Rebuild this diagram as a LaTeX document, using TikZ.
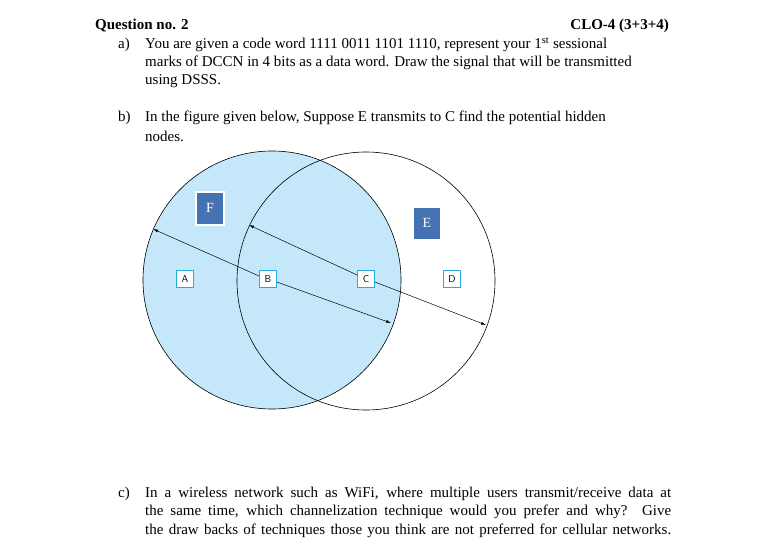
\documentclass[tikz,border=0pt]{standalone}
\usepackage{fontspec}
\setmainfont{Liberation Serif}
\usetikzlibrary{arrows.meta}
\definecolor{lblue}{RGB}{196,232,250}
\definecolor{dblue}{RGB}{68,114,179}
\definecolor{sedge}{RGB}{40,170,220}
\begin{document}
\begin{tikzpicture}[x=1pt,y=-1pt,
 txt/.style={anchor=west,inner sep=0pt,font=\fontsize{15}{18}\selectfont},
 sbox/.style={draw=sedge,fill=white,line width=0.8pt,minimum width=17pt,minimum height=17pt,inner sep=0pt,font=\sffamily},
 bbox/.style={draw=white,line width=2pt,fill=dblue,text=white,minimum width=28pt,minimum height=33pt,inner sep=0pt,font=\fontsize{14}{14}\selectfont},
 arr/.style={-{Latex[length=5pt,width=3pt]},line width=0.5pt}]
\useasboundingbox (0,0) rectangle (774,549);
\node[txt,font=\bfseries\fontsize{15}{18}\selectfont] (q) at (95,26) {Question no. 2};
\node[anchor=east,inner sep=0pt,font=\bfseries\fontsize{15}{18}\selectfont] (clo) at (669,26) {CLO-4 (3+3+4)};
\node[txt] (la) at (118,45) {a)};
\node[txt] (a1) at (145,45) {You are given a code word 1111 0011 1101 1110, represent your 1\textsuperscript{st} sessional};
\node[txt] (a2) at (145,63) {marks of DCCN in 4 bits as a data word. Draw the signal that will be transmitted};
\node[txt] (a3) at (145,81) {using DSSS.};
\node[txt] (lb) at (118,118) {b)};
\node[txt] (b1t) at (145,118) {In the figure given below, Suppose E transmits to C find the potential hidden};
\node[txt] (b2t) at (145,136) {nodes.};
\node[txt] (lc) at (118,494) {c)};
\node[txt] (c1t) at (145,494) {\makebox[526pt][s]{In a wireless network such as WiFi, where multiple users transmit/receive data at}};
\node[txt] (c2t) at (145,512) {\makebox[526pt][s]{the same time, which channelization technique would you prefer and why? Give}};
\node[txt] (c3t) at (145,531) {\makebox[526pt][s]{the draw backs of techniques those you think are not preferred for cellular networks.}};
\fill[lblue] (272,280) circle (129);
\draw[line width=0.6pt] (272,280) circle (129);
\draw[line width=0.6pt] (366,281) circle (129);
\node[sbox] (A) at (185,279) {A};
\node[sbox] (B) at (268,279) {B};
\node[sbox] (C) at (366,279) {C};
\node[sbox] (D) at (452,279) {D};
\node[bbox] (F) at (210,208) {F};
\node[bbox] (E) at (427,223) {E};
\coordinate (b1) at (153,229);
\coordinate (b2) at (391,323);
\coordinate (c1) at (249,225);
\coordinate (c2) at (486,325);
\draw[arr] (B.west) ++(0,-3) -- (b1);
\draw[arr] (B.east) ++(0,3) -- (b2);
\draw[arr] (C.west) ++(0,-4) -- (c1);
\draw[arr] (C.east) ++(0,3) -- (c2);
\end{tikzpicture}
\end{document}
